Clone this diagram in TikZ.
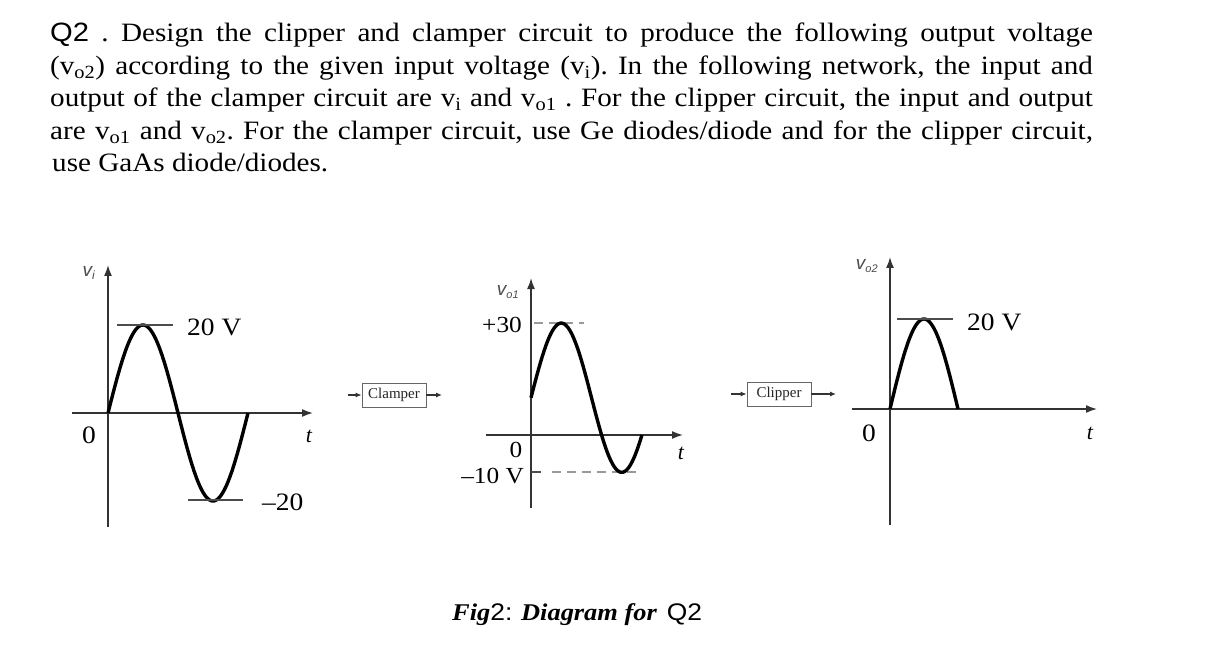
\documentclass[tikz,border=0pt]{standalone}
\usepackage{graphicx}
\usepackage{fontspec}
\setmainfont{Liberation Serif}
\newfontfamily\arialf{Liberation Sans}
\usetikzlibrary{arrows.meta}
\newcommand{\hs}[1]{\scalebox{1.1}[1]{#1}}
\newcommand{\sbs}[1]{\textsubscript{#1}}
\newcommand{\jline}[1]{\hs{\makebox[948pt][s]{#1}}}
\tikzset{
  axis/.style={draw=black!80, line width=1.6pt, -{Latex[length=11pt,width=8pt]}},
  wave/.style={draw=black, line width=3.4pt, line join=round},
  tick/.style={draw=black!70, line width=1.6pt},
  dashgray/.style={draw=black!40, line width=1.2pt, dash pattern=on 9pt off 6pt},
  lbl/.style={inner sep=0pt, font=\fontsize{25}{28}\selectfont},
  lblsm/.style={inner sep=0pt, font=\fontsize{23}{26}\selectfont},
  vlbl/.style={inner sep=0pt, font=\fontsize{19}{22}\selectfont\arialf\itshape, text=black!70},
  tlbl/.style={inner sep=0pt, font=\fontsize{22}{24}\selectfont\itshape},
  blockbox/.style={draw=black!60, line width=0.8pt, minimum width=64pt, minimum height=24pt, inner sep=0pt, font=\fontsize{15}{18}\selectfont, text=black!85},
  flow/.style={draw=black!80, line width=1.1pt, -{Latex[length=6pt,width=5pt]}},
  body/.style={anchor=base west, inner sep=0pt, font=\fontsize{26.5}{31}\selectfont\frenchspacing},
}
\begin{document}
\begin{tikzpicture}[x=1pt,y=-1pt]
\useasboundingbox[fill=white] (0,0) rectangle (1212,668);
% ---- text ----
\node[body] (l1) at (50,42) {\jline{{\arialf Q2} . Design the clipper and clamper circuit to produce the following output voltage}};
\node[body] (l2) at (50,74.5) {\jline{(v\sbs{o2}) according to the given input voltage (v\sbs{i}). In the following network, the input and}};
\node[body] (l3) at (50,107) {\jline{output of the clamper circuit are v\sbs{i} and v\sbs{o1} . For the clipper circuit, the input and output}};
\node[body] (l4) at (50,139.5) {\jline{are v\sbs{o1} and v\sbs{o2}. For the clamper circuit, use Ge diodes/diode and for the clipper circuit,}};
\node[body] (l5) at (52,172) {\hs{use GaAs diode/diodes.}};
% ---- panel 1: vi ----
\coordinate (a1b) at (108,527); \coordinate (a1t) at (108,265);
\coordinate (h1l) at (72,413); \coordinate (h1r) at (313,413);
\draw[axis] (a1b) -- (a1t);
\draw[axis] (h1l) -- (h1r);
\draw[wave] plot[domain=0:360, samples=120] ({108+\x/360*140}, {413-88*sin(\x)});
\coordinate (p1a) at (117,325); \coordinate (p1b) at (173,325);
\draw[tick] (p1a) -- (p1b);
\coordinate (p1c) at (188,500); \coordinate (p1d) at (243,500);
\draw[tick] (p1c) -- (p1d);
\node[lbl, anchor=west] (p1v) at (187,327) {\hs{20 V}};
\node[lbl, anchor=west] (p1n) at (262,502) {\hs{\textendash20}};
\node[lbl] (p1z) at (89,435) {\hs{0}};
\node[tlbl] (p1t) at (309,436) {t};
\node[vlbl] (p1y) at (89,273) {v\textsubscript{\fontsize{12}{13}\selectfont i}};
% ---- clamper ----
\node[blockbox] (clamp) at (394,395) {Clamper};
\coordinate (cin) at (348,395); \coordinate (cout) at (442,395);
\draw[flow] (cin) -- (clamp.west);
\draw[flow] (clamp.east) -- (cout);
% ---- panel 2: vo1 ----
\coordinate (a2b) at (531,508); \coordinate (a2t) at (531,278);
\coordinate (h2l) at (486,435); \coordinate (h2r) at (683,435);
\draw[axis] (a2b) -- (a2t);
\draw[axis] (h2l) -- (h2r);
\coordinate (d2a) at (534,323); \coordinate (d2b) at (584,323);
\draw[dashgray] (d2a) -- (d2b);
\coordinate (d2c) at (531,472); \coordinate (d2d) at (541,472);
\draw[tick] (d2c) -- (d2d);
\coordinate (d2e) at (552,472); \coordinate (d2f) at (641,472);
\draw[dashgray] (d2e) -- (d2f);
\draw[wave] plot[domain=0:330, samples=120] ({531+\x/360*121}, {435-3.73*(10+20*sin(\x))});
\node[lblsm, anchor=east] (p2p) at (522,325) {\hs{+30}};
\node[lblsm] (p2z) at (516,450) {\hs{0}};
\node[lblsm, anchor=east] (p2n) at (524,476) {\hs{\textendash10 V}};
\node[tlbl] (p2t) at (681,453) {t};
\node[vlbl] (p2y) at (508,292) {v\textsubscript{\fontsize{11}{12}\selectfont o1}};
% ---- clipper ----
\node[blockbox] (clip) at (779,394) {Clipper};
\coordinate (kin) at (731,394); \coordinate (kout) at (836,394);
\draw[flow] (kin) -- (clip.west);
\draw[flow] (clip.east) -- (kout);
% ---- panel 3: vo2 ----
\coordinate (a3b) at (890,525); \coordinate (a3t) at (890,257);
\coordinate (h3l) at (852,409); \coordinate (h3r) at (1097,409);
\draw[axis] (a3b) -- (a3t);
\draw[axis] (h3l) -- (h3r);
\draw[wave] plot[domain=0:180, samples=80] ({890+\x/180*68}, {409-90*sin(\x)});
\coordinate (p3a) at (897,319); \coordinate (p3b) at (953,319);
\draw[tick] (p3a) -- (p3b);
\node[lbl, anchor=west] (p3v) at (967,322) {\hs{20 V}};
\node[lbl] (p3z) at (869,433) {\hs{0}};
\node[tlbl] (p3t) at (1090,433) {t};
\node[vlbl] (p3y) at (867,266) {v\textsubscript{\fontsize{11}{12}\selectfont o2}};
% ---- caption ----
\node[anchor=base west, inner sep=0pt, font=\fontsize{24}{26}\selectfont] (cap) at (452,620) {\hs{\textbf{\textit{Fig}}{\arialf 2:} \textbf{\textit{Diagram for}}\hspace{9pt}{\arialf Q2}}};
\end{tikzpicture}
\end{document}
